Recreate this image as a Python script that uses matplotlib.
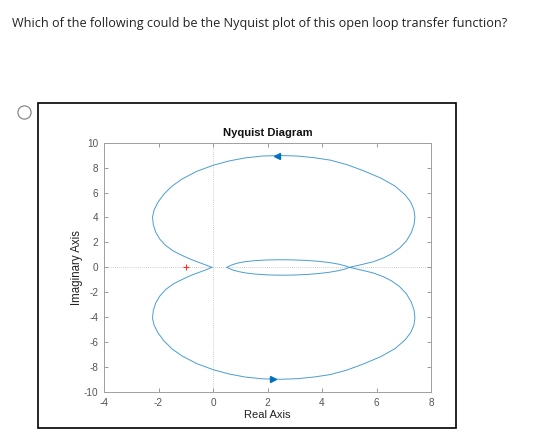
import numpy as np
import matplotlib
matplotlib.use("Agg")
import matplotlib.pyplot as plt
from matplotlib.patches import Rectangle, Circle

# ---------------- data ----------------
question = "Which of the following could be the Nyquist plot of this open loop transfer function?"
title = "Nyquist Diagram"
xlabel = "Real Axis"
ylabel = "Imaginary Axis"
xticks = [-4, -2, 0, 2, 4, 6, 8]
yticks = [-10, -8, -6, -4, -2, 0, 2, 4, 6, 8, 10]

# lower outer lobe: cusp -> down left side -> bottom -> up right side -> crossing
lower_lobe_re = [-0.04, -0.25, -0.52, -0.80, -1.12, -1.45, -1.74, -1.95, -2.10, -2.19, -2.22,
                 -2.16, -2.02, -1.80, -1.50, -1.14, -0.60, 0.02, 0.60, 1.18, 1.80, 2.50,
                 3.10, 3.70, 4.31, 4.90, 5.50, 6.15, 6.68, 7.05, 7.25, 7.37, 7.41, 7.38,
                 7.28, 7.10, 6.85, 6.55, 6.25, 5.88, 5.45, 5.00]
lower_lobe_im = [0.00, -0.19, -0.41, -0.64, -0.96, -1.32, -1.78, -2.30, -2.85, -3.45, -4.08,
                 -4.65, -5.25, -5.90, -6.55, -7.10, -7.72, -8.22, -8.56, -8.80, -8.94, -8.98,
                 -8.93, -8.80, -8.60, -8.25, -7.77, -7.17, -6.52, -5.82, -5.25, -4.65, -4.05,
                 -3.45, -2.80, -2.13, -1.55, -1.08, -0.75, -0.45, -0.22, 0.00]

# inner lens, upper arc: crossing -> left tip
lens_top_re = [5.00, 4.86, 4.60, 4.25, 3.85, 3.39, 2.90, 2.41, 1.95, 1.55, 1.20, 0.94, 0.72, 0.50]
lens_top_im = [0.00, 0.12, 0.26, 0.39, 0.49, 0.56, 0.60, 0.61, 0.59, 0.54, 0.46, 0.36, 0.22, 0.00]

# inner lens, lower arc: left tip -> crossing
lens_bot_re = [0.50, 0.72, 0.94, 1.20, 1.55, 1.95, 2.41, 2.90, 3.39, 3.85, 4.25, 4.60, 4.86, 5.00]
lens_bot_im = [0.00, -0.21, -0.34, -0.45, -0.54, -0.60, -0.63, -0.62, -0.58, -0.50, -0.40, -0.27, -0.13, 0.00]

# upper outer lobe: crossing -> up right side -> top -> down left side -> cusp
upper_lobe_re = [5.00, 5.45, 5.88, 6.25, 6.55, 6.85, 7.10, 7.28, 7.38, 7.41, 7.37, 7.25,
                 7.05, 6.68, 6.15, 5.50, 4.90, 4.31, 3.70, 3.10, 2.50, 1.80, 1.18, 0.60,
                 0.02, -0.60, -1.14, -1.50, -1.80, -2.02, -2.16, -2.22, -2.19, -2.10,
                 -1.95, -1.74, -1.45, -1.12, -0.80, -0.52, -0.25, -0.04]
upper_lobe_im = [0.00, 0.22, 0.45, 0.75, 1.08, 1.55, 2.13, 2.80, 3.45, 4.03, 4.65, 5.25,
                 5.82, 6.52, 7.17, 7.77, 8.25, 8.60, 8.80, 8.93, 8.97, 8.93, 8.78, 8.54,
                 8.20, 7.70, 7.08, 6.52, 5.88, 5.22, 4.62, 4.03, 3.42, 2.82, 2.26, 1.76,
                 1.30, 0.94, 0.63, 0.40, 0.18, 0.00]

arrow_left_pt = (2.35, 8.97)    # arrow pointing left on upper lobe
arrow_right_pt = (2.20, -8.98)  # arrow pointing right on lower lobe
critical_pt = (-1, 0)

# ---------------- figure ----------------
W, H = 542, 436
fig = plt.figure(figsize=(W / 100, H / 100), dpi=100)
fig.patch.set_facecolor("white")

fig.text(12 / W, 1 - 23 / H, question, family="Open Sans", fontsize=9.07,
         color="#222222", va="center", ha="left")

# answer box
box_l, box_t, box_r, box_b = 37.5, 103, 455.5, 428
fig.add_artist(Rectangle((box_l / W, 1 - box_b / H), (box_r - box_l) / W, (box_b - box_t) / H,
                         transform=fig.transFigure, fill=False, edgecolor="black", lw=1.2))
# radio button
fig.add_artist(Circle((24.5 / 100, (H - 112.5) / 100), 0.066, transform=fig.dpi_scale_trans,
                      fill=False, edgecolor="#8a8a8a", lw=0.9))

ax_l, ax_r, ax_t, ax_b = 104, 431, 142.7, 392
ax = fig.add_axes([ax_l / W, 1 - ax_b / H, (ax_r - ax_l) / W, (ax_b - ax_t) / H])

line_color = "#4a9dd3"
re = np.concatenate([lower_lobe_re, lens_top_re, lens_bot_re, upper_lobe_re])
im = np.concatenate([lower_lobe_im, lens_top_im, lens_bot_im, upper_lobe_im])
ax.axhline(0, color="#bdbdbd", ls=(0, (1, 1.5)), lw=0.6, zorder=1)
ax.axvline(0, color="#bdbdbd", ls=(0, (1, 1.5)), lw=0.6, zorder=1)
ax.plot(re, im, color=line_color, lw=0.7, zorder=3)
ax.plot([arrow_left_pt[0]], [arrow_left_pt[1]], marker="<", ms=4.5, color="#0072BD",
        mec="#0072BD", zorder=4)
ax.plot([arrow_right_pt[0]], [arrow_right_pt[1]], marker=">", ms=4.5, color="#0072BD",
        mec="#0072BD", zorder=4)
ax.plot([critical_pt[0]], [critical_pt[1]], marker="+", ms=5, mew=0.8, color="#ff3030", zorder=4)

ax.set_xlim(-4, 8)
ax.set_ylim(-10, 10)
ax.set_xticks(xticks)
ax.set_yticks(yticks)
ax.set_xticklabels([str(t) for t in xticks], family="Liberation Sans", fontsize=7.2)
ax.set_yticklabels([str(t) for t in yticks], family="Liberation Sans", fontsize=7.2)
ax.tick_params(direction="in", length=3, width=0.6, color="#8c8c8c", labelcolor="#555555",
               top=True, right=True, pad=4)
for s in ax.spines.values():
    s.set_color("#a0a0a0")
    s.set_linewidth(0.7)

ax.set_title(title, family="Liberation Sans", fontweight="bold", fontsize=8.1,
             color="#111111", pad=5)
ax.set_xlabel(xlabel, family="Liberation Sans", fontsize=8.0, color="#222222", labelpad=2)
ax.set_ylabel(ylabel, family="Liberation Sans", fontsize=8.3, color="#222222", labelpad=0.5)

fig.savefig("out.png", dpi=100)
